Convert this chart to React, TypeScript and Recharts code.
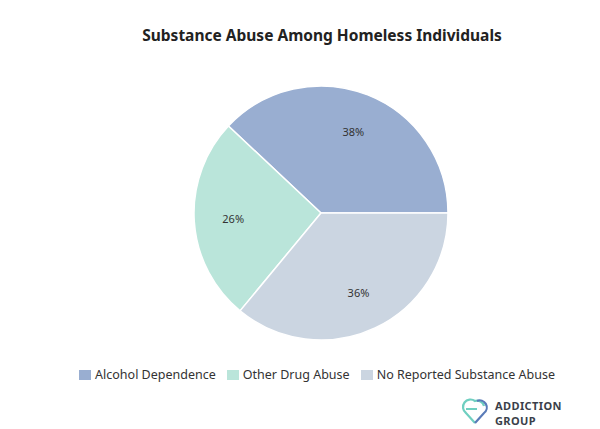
import React from "react";
import { PieChart, Pie, Cell } from "recharts";

const categories = ["Alcohol Dependence", "Other Drug Abuse", "No Reported Substance Abuse"];
const values = [38, 26, 36];
const colors = ["#99AED1", "#BAE5DA", "#CBD5E1"];

const data = categories.map((name, i) => ({ name, value: values[i] }));

const RAD = Math.PI / 180;
const renderLabel = (props: any) => {
  const { cx, cy, midAngle, percent } = props;
  const r = 88;
  const x = cx + r * Math.cos(-midAngle * RAD);
  const y = cy + r * Math.sin(-midAngle * RAD);
  return (
    <text x={x} y={y} fill="#333" fontSize={11} textAnchor="middle" dominantBaseline="central" fontFamily="'Noto Sans', sans-serif">
      {`${Math.round(percent * 100)}%`}
    </text>
  );
};

const Logo = () => (
  <svg width={120} height={38} viewBox="0 0 120 38">
    <path d="M14 31 L5 21 A7 7 0 0 1 14 9 A7 7 0 0 1 23 14" fill="none" stroke="#6FCFC0" strokeWidth={2.2} />
    <path d="M14 31 L23 21 A7 7 0 0 0 16 9" fill="none" stroke="#5A7BB8" strokeWidth={2.2} />
    <line x1={5} y1={17} x2={16} y2={17} stroke="#6FCFC0" strokeWidth={2} />
    <text x={34} y={18} fontSize={11} letterSpacing={0.4} fontWeight={700} fill="#3a3f4a" fontFamily="'Noto Sans', sans-serif">ADDICTION</text>
    <text x={34} y={33} fontSize={11} letterSpacing={0.4} fontWeight={700} fill="#3a3f4a" fontFamily="'Noto Sans', sans-serif">GROUP</text>
  </svg>
);

export default function App() {
  return (
    <div style={{ position: "absolute", left: 0, top: 0, width: 600, height: 429, background: "#fff", fontFamily: "'Noto Sans', sans-serif" }}>
      <div style={{ position: "absolute", left: 0, top: 24, width: 644, textAlign: "center", fontSize: 15.5, fontWeight: 700, color: "#222" }}>
        Substance Abuse Among Homeless Individuals
      </div>
      <div style={{ position: "absolute", left: 0, top: 0 }}>
        <PieChart width={600} height={429} margin={{ top: 0, right: 0, bottom: 0, left: 0 }}>
          <Pie
            data={data}
            dataKey="value"
            nameKey="name"
            cx={321}
            cy={213}
            outerRadius={127}
            startAngle={0}
            endAngle={360}
            stroke="#fff"
            strokeWidth={1.5}
            label={renderLabel}
            labelLine={false}
            isAnimationActive={false}
          >
            {data.map((d, i) => (
              <Cell key={d.name} fill={colors[i]} />
            ))}
          </Pie>
        </PieChart>
      </div>
      <div style={{ position: "absolute", left: 0, top: 366, width: 634, display: "flex", justifyContent: "center", fontSize: 12.5, color: "#333", lineHeight: "18px" }}>
        {categories.map((c, i) => (
          <div key={c} style={{ display: "flex", alignItems: "center", marginRight: i < categories.length - 1 ? 11 : 0 }}>
            <span style={{ display: "inline-block", width: 12, height: 10, background: colors[i], marginRight: 4 }} />
            <span>{c}</span>
          </div>
        ))}
      </div>
      <div style={{ position: "absolute", left: 461, top: 392 }}>
        <Logo />
      </div>
    </div>
  );
}
